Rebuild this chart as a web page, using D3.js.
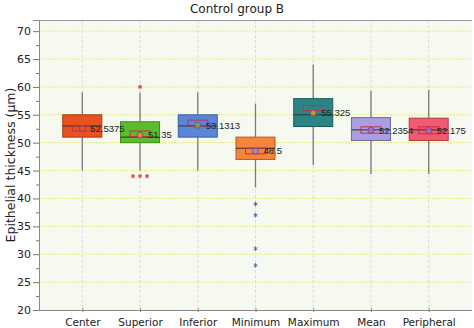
<!DOCTYPE html>
<html>
<head>
<meta charset="utf-8">
<script src="https://cdn.jsdelivr.net/npm/d3@7/dist/d3.min.js"></script>
<style>
  html, body { margin: 0; padding: 0; background: #fff; }
  svg { display: block; }
  text { font-family: "DejaVu Sans", sans-serif; fill: #222; }
</style>
</head>
<body>
<svg id="chart" width="474" height="328"></svg>
<script>
// Epithelial thickness by region, control group B
const categories = ["Center", "Superior", "Inferior", "Minimum", "Maximum", "Mean", "Peripheral"];
const whiskerLow  = [45, 45, 45, 42, 46, 44.4, 44.4];
const q1          = [51, 50, 51, 47, 52.9, 50.4, 50.4];
const medians     = [53, 51, 53, 49, 55, 52.3, 52.3];
const q3          = [55, 53.75, 55, 51, 57.9, 54.5, 54.4];
const whiskerHigh = [59, 59, 59, 57, 64, 59.3, 59.5];
const means       = [52.5375, 51.35, 53.1313, 48.5, 55.325, 52.2354, 52.175];
const ciLow       = [52.1, 51.1, 53.0, 48.0, 55.75, 51.7, 51.6];
const ciHigh      = [53.0, 52.1, 54.05, 49.0, 56.65, 52.85, 52.85];
const outlierCats   = ["Superior", "Superior", "Superior", "Superior", "Minimum", "Minimum", "Minimum", "Minimum"];
const outlierValues = [60, 44, 44, 44, 39, 37, 31, 28];
const yTicks = [20, 25, 30, 35, 40, 45, 50, 55, 60, 65, 70];

const boxFill   = ["#e8521f", "#5cbd2c", "#5b86d8", "#f5843c", "#2b8585", "#a99fe0", "#f25a6f"];
const boxStroke = ["#a83812", "#3d8a1a", "#3a5fa8", "#b85a22", "#1a5a5a", "#6f67a8", "#b83a4c"];
const markFill  = ["#e8521f", "#f5843c", "#8aa84a", "#9a8ae0", "#e0a020", "#c060d0", "#c060d0"];
const outlierColor = { Superior: "#e83a3a", Minimum: "#5a6ac8" };

const svg = d3.select("#chart");
const W = 474, H = 328;
const margin = { left: 39, right: 2, top: 20, bottom: 18 };
const x0 = margin.left, x1 = W - margin.right;
const yTop = margin.top, yBot = H - margin.bottom;

const x = d3.scalePoint().domain(categories).range([x0, x1]).padding(0.75);
const y = d3.scaleLinear().domain([20, 72]).range([yBot, yTop]);

// plot background
svg.append("rect").attr("x", x0).attr("y", yTop)
  .attr("width", x1 - x0).attr("height", yBot - yTop)
  .attr("fill", "#f5f9f0");

// horizontal grid
svg.append("g").selectAll("line").data(yTicks.filter(t => t > 20)).join("line")
  .attr("x1", x0).attr("x2", x1)
  .attr("y1", d => y(d)).attr("y2", d => y(d))
  .attr("stroke", "#eded7a").attr("stroke-width", 1)
  .attr("stroke-dasharray", "2,1");

// vertical grid
svg.append("g").selectAll("line").data(categories).join("line")
  .attr("x1", d => x(d)).attr("x2", d => x(d))
  .attr("y1", yTop).attr("y2", yBot)
  .attr("stroke", "#dcdcdc").attr("stroke-width", 1)
  .attr("stroke-dasharray", "3,2");

// top frame line
svg.append("line").attr("x1", x0).attr("x2", x1).attr("y1", yTop + 0.5).attr("y2", yTop + 0.5)
  .attr("stroke", "#9a9aa0");

// y axis with minor ticks
const yAxis = d3.axisLeft(y).tickValues(yTicks).tickSize(6).tickPadding(2);
const gy = svg.append("g").attr("transform", `translate(${x0},0)`).call(yAxis);
gy.select(".domain").attr("stroke", "#8a8a8a");
gy.selectAll(".tick line").attr("stroke", "#777");
gy.selectAll(".tick text").style("font-size", "11px").attr("fill", "#333");
const minor = d3.range(22.5, 72, 5);
gy.append("g").selectAll("line").data(minor).join("line")
  .attr("x1", -3).attr("x2", 0)
  .attr("y1", d => y(d) + 0.5).attr("y2", d => y(d) + 0.5)
  .attr("stroke", "#777");

// x axis
const xAxis = d3.axisBottom(x).tickSize(3).tickPadding(6);
const gx = svg.append("g").attr("transform", `translate(0,${yBot})`).call(xAxis);
gx.select(".domain").attr("stroke", "#8a8a8a").attr("d", `M${x0},0.5H${x1}`);
gx.selectAll(".tick line").attr("y1", -2).attr("y2", 2).attr("stroke", "#888");
gx.selectAll(".tick text").style("font-size", "10.5px").attr("fill", "#333");

// titles
svg.append("text").attr("x", 237).attr("y", 13).attr("text-anchor", "middle")
  .style("font-size", "12px").text("Control group B");
svg.append("text")
  .attr("transform", `translate(15,${(yTop + yBot) / 2}) rotate(-90)`)
  .attr("text-anchor", "middle").style("font-size", "12.5px")
  .text("Epithelial thickness (μm)");

// boxes
const halfW = 19.5;
const g = svg.append("g");
categories.forEach((c, i) => {
  const cx = x(c);
  const gg = g.append("g");
  gg.append("line").attr("x1", cx).attr("x2", cx)
    .attr("y1", y(whiskerHigh[i])).attr("y2", y(q3[i]))
    .attr("stroke", "#7a7a7a").attr("stroke-width", 1.3);
  gg.append("line").attr("x1", cx).attr("x2", cx)
    .attr("y1", y(q1[i])).attr("y2", y(whiskerLow[i]))
    .attr("stroke", "#7a7a7a").attr("stroke-width", 1.3);
  gg.append("rect").attr("x", cx - halfW).attr("y", y(q3[i]))
    .attr("width", 2 * halfW).attr("height", y(q1[i]) - y(q3[i]))
    .attr("fill", boxFill[i]).attr("stroke", boxStroke[i]).attr("stroke-width", 1);
  gg.append("line").attr("x1", cx - halfW).attr("x2", cx + halfW)
    .attr("y1", y(medians[i])).attr("y2", y(medians[i]))
    .attr("stroke", "#333").attr("stroke-width", 1);
  gg.append("rect").attr("x", cx - 10).attr("y", y(ciHigh[i]))
    .attr("width", 20).attr("height", y(ciLow[i]) - y(ciHigh[i]))
    .attr("fill", "none").attr("stroke", "#c0304a").attr("stroke-width", 1);
  gg.append("circle").attr("cx", cx).attr("cy", y(means[i])).attr("r", 3)
    .attr("fill", markFill[i]).attr("fill-opacity", 0.8)
    .attr("stroke", "#6a4a6a").attr("stroke-width", 0.8);
});

// mean value labels, drawn above all boxes
svg.append("g").selectAll("text").data(categories).join("text")
  .attr("x", d => x(d) + 8)
  .attr("y", (d, i) => y(means[i]))
  .attr("dy", "0.35em")
  .style("font-family", "'Liberation Sans', Arial, sans-serif")
  .style("font-size", "9.5px").attr("fill", "#1a1a1a")
  .text((d, i) => String(means[i]));

// outliers: repeated values spread sideways
const seen = {};
const star = d3.symbol().type(d3.symbolAsterisk).size(14);
outlierValues.forEach((v, k) => {
  const c = outlierCats[k];
  const key = c + v;
  const count = outlierValues.filter((w, j) => w === v && outlierCats[j] === c).length;
  seen[key] = (seen[key] || 0);
  const off = (seen[key] - (count - 1) / 2) * 7;
  seen[key]++;
  svg.append("path").attr("d", star)
    .attr("transform", `translate(${x(c) + off},${y(v)})`)
    .attr("fill", "none").attr("stroke", outlierColor[c]).attr("stroke-width", 1);
});
</script>
</body>
</html>
